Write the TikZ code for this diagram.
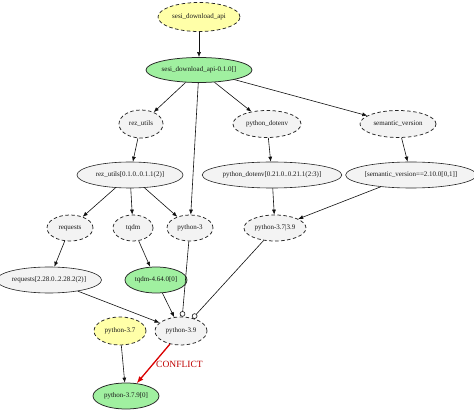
\documentclass[tikz,border=0pt]{standalone}
\usepackage{fontspec}
\setmainfont{Liberation Serif}
\usetikzlibrary{shapes.geometric,arrows.meta}
\definecolor{ylw}{HTML}{FFFFA8}
\definecolor{grn}{HTML}{A0F0A0}
\definecolor{gry}{HTML}{F3F3F3}
\definecolor{edgec}{HTML}{111111}
\tikzset{
  el/.style={ellipse, draw=black!85, inner sep=0pt, font=\fontsize{7}{8}\selectfont, text=black!90},
  req/.style={el, dash pattern=on 3.5pt off 2.5pt, fill=gry, line width=0.75pt},
  reqy/.style={el, dash pattern=on 3.5pt off 2.5pt, fill=ylw, line width=0.75pt},
  res/.style={el, fill=gry, line width=0.6pt},
  resg/.style={el, fill=grn, line width=0.75pt},
  dep/.style={draw=edgec, line width=0.6pt, -{Latex[length=5pt,width=4pt]}},
  weak/.style={draw=edgec, line width=0.6pt, -{Circle[open,length=5.5pt,width=5.5pt]}},
  confl/.style={draw=red!85!black, line width=1.3pt, -{Latex[length=7pt,width=5.5pt]}}
}
\begin{document}
\begin{tikzpicture}[x=1pt,y=-1pt]
\fill[white] (0,0) rectangle (474,414);
\useasboundingbox (0,0) rectangle (474,414);
\node[reqy, minimum width=82pt, minimum height=29pt] (sesi) at (199,17) {sesi\_download\_api};
\node[resg, minimum width=106pt, minimum height=25pt] (sesiv) at (199,70) {sesi\_download\_api-0.1.0[]};
\node[req, minimum width=44pt, minimum height=28pt] (rez) at (141,124) {rez\_utils};
\node[req, minimum width=68pt, minimum height=27pt] (dot) at (267,124) {python\_dotenv};
\node[req, minimum width=76pt, minimum height=27pt] (sem) at (398,124) {semantic\_version};
\node[res, minimum width=106pt, minimum height=26pt] (rezv) at (130,175) {rez\_utils[0.1.0..0.1.1(2)]};
\node[res, minimum width=128pt, minimum height=26pt] (dotv) at (272,175) {python\_dotenv[0.21.0..0.21.1(2:3)]};
\node[res, minimum width=126pt, minimum height=26pt] (semv) at (411,175) {[semantic\_version==2.10.0[0,1]]};
\node[req, minimum width=46pt, minimum height=26pt] (requ) at (70,228) {requests};
\node[req, minimum width=40pt, minimum height=26pt] (tqdm) at (133,228) {tqdm};
\node[req, minimum width=46pt, minimum height=26pt] (py3) at (190,228) {python-3};
\node[req, minimum width=62pt, minimum height=26pt] (py379) at (275,228) {python-3.7|3.9};
\node[res, minimum width=102pt, minimum height=26pt] (requv) at (49,280) {requests[2.28.0..2.28.2(2)]};
\node[resg, minimum width=62pt, minimum height=26pt] (tqdmv) at (156,280) {tqdm-4.64.0[0]};
\node[req, minimum width=52pt, minimum height=28pt] (py39) at (181,331) {python-3.9};
\node[reqy, minimum width=52pt, minimum height=28pt] (py37) at (120,331) {python-3.7};
\node[resg, minimum width=66pt, minimum height=26pt] (py379v) at (126,396) {python-3.7.9[0]};

\draw[dep] (sesi) -- (sesiv);
\draw[dep] (sesiv) -- (rez);
\draw[dep] (sesiv) -- (py3);
\draw[dep] (sesiv) -- (dot);
\draw[dep] (sesiv) -- (sem);
\draw[dep] (rez) -- (rezv);
\draw[dep] (dot) -- (dotv);
\draw[dep] (sem) -- (semv);
\draw[dep] (rezv) -- (requ);
\draw[dep] (rezv) -- (tqdm);
\draw[dep] (rezv) -- (py3);
\draw[dep] (dotv) -- (py379);
\draw[dep] (semv) -- (py379);
\draw[dep] (requ) -- (requv);
\draw[dep] (tqdm) -- (tqdmv);
\draw[dep] (requv) -- (py39);
\draw[dep] (tqdmv) -- (py39);
\draw[weak] (py3) -- (py39);
\draw[weak] (py379) -- (py39);
\draw[dep] (py37) -- (py379v);
\draw[confl] (py39) -- (py379v);
\node[anchor=west, inner sep=0pt, text=red!75!black, font=\fontsize{9.5}{10}\selectfont] (clabel) at (156,364) {CONFLICT};
\end{tikzpicture}
\end{document}
